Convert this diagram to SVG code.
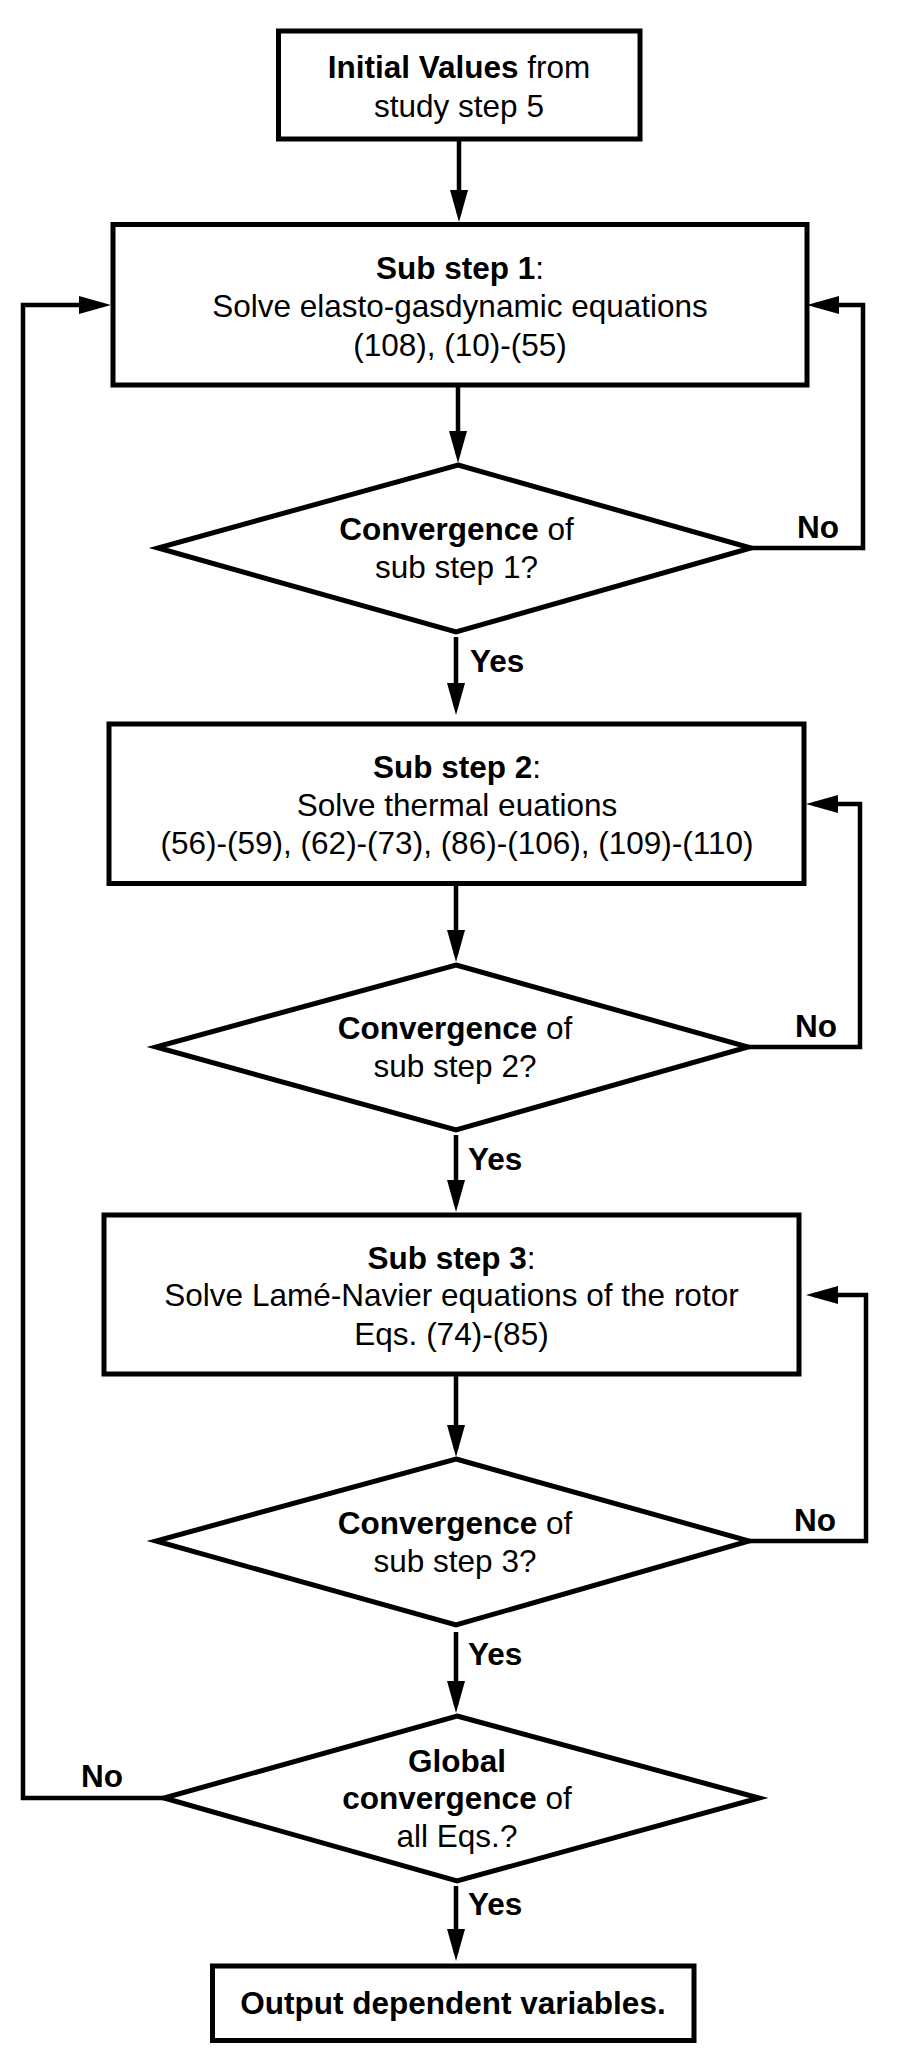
<svg xmlns="http://www.w3.org/2000/svg" width="901" height="2058" viewBox="0 0 901 2058">
<style>
text{font-family:"Liberation Sans",Arial,sans-serif;font-size:31.5px;fill:#000;text-anchor:middle}
.b{font-weight:bold}
.lbl{font-weight:bold;text-anchor:start}
.shape{fill:#fff;stroke:#000;stroke-width:5;stroke-linejoin:miter}
.conn{fill:none;stroke:#000;stroke-width:4.5;marker-end:url(#ah)}
.loop{fill:none;stroke:#000;stroke-width:4.5;stroke-linejoin:miter;marker-end:url(#ah)}
</style>
<defs>
<marker id="ah" markerUnits="userSpaceOnUse" markerWidth="32" markerHeight="18" refX="24" refY="9" orient="auto">
<path d="M0,0 L32,9 L0,18 Z" fill="#000"/>
</marker>
</defs>
<rect width="901" height="2058" fill="#fff"/>

<g id="connectors">
<line class="conn" x1="459" y1="141" x2="459" y2="214"/>
<line class="conn" x1="458" y1="387" x2="458" y2="455"/>
<line class="conn" x1="456" y1="637" x2="456" y2="707"/>
<line class="conn" x1="456" y1="886" x2="456" y2="954"/>
<line class="conn" x1="456" y1="1135" x2="456" y2="1204"/>
<line class="conn" x1="456" y1="1376" x2="456" y2="1449"/>
<line class="conn" x1="456" y1="1632" x2="456" y2="1705"/>
<line class="conn" x1="456" y1="1886" x2="456" y2="1953"/>
<path class="loop" d="M751,548 H863 V305 H815"/>
<path class="loop" d="M748,1047 H860 V804 H814"/>
<path class="loop" d="M749,1541 H866 V1295 H814"/>
<path class="loop" d="M164,1798 H23 V305 H103"/>
<text class="lbl" x="797" y="538">No</text>
<text class="lbl" x="470" y="672">Yes</text>
<text class="lbl" x="795" y="1037">No</text>
<text class="lbl" x="468" y="1170">Yes</text>
<text class="lbl" x="794" y="1531">No</text>
<text class="lbl" x="468" y="1665">Yes</text>
<text class="lbl" x="81" y="1787">No</text>
<text class="lbl" x="468" y="1915">Yes</text>
</g>

<g id="start">
<rect class="shape" x="278.5" y="31" width="361.5" height="108"/>
<text x="459" y="78"><tspan class="b">Initial Values</tspan> from</text>
<text x="459" y="116.5">study step 5</text>
</g>

<g id="substep1">
<rect class="shape" x="113" y="224.5" width="694" height="160.5"/>
<text x="460" y="279"><tspan class="b">Sub step 1</tspan>:</text>
<text x="460" y="317">Solve elasto-gasdynamic equations</text>
<text x="460" y="356">(108), (10)-(55)</text>
</g>

<g id="check1">
<polygon class="shape" points="458,465 751,548 456,632 158,548"/>
<text x="456.5" y="540"><tspan class="b">Convergence</tspan> of</text>
<text x="456.5" y="578">sub step 1?</text>
</g>

<g id="substep2">
<rect class="shape" x="109" y="724" width="695" height="159.5"/>
<text x="457" y="778"><tspan class="b">Sub step 2</tspan>:</text>
<text x="457" y="815.5">Solve thermal euations</text>
<text x="457" y="853.5">(56)-(59), (62)-(73), (86)-(106), (109)-(110)</text>
</g>

<g id="check2">
<polygon class="shape" points="456,965 748,1047 456,1130 156,1047"/>
<text x="455" y="1038.5"><tspan class="b">Convergence</tspan> of</text>
<text x="455" y="1077">sub step 2?</text>
</g>

<g id="substep3">
<rect class="shape" x="104" y="1215" width="695" height="159"/>
<text x="451.5" y="1268.5"><tspan class="b">Sub step 3</tspan>:</text>
<text x="451.5" y="1306">Solve Lamé-Navier equations of the rotor</text>
<text x="451.5" y="1344.5">Eqs. (74)-(85)</text>
</g>

<g id="check3">
<polygon class="shape" points="456,1459 749,1541 456,1625 156,1541"/>
<text x="455" y="1533.5"><tspan class="b">Convergence</tspan> of</text>
<text x="455" y="1571.5">sub step 3?</text>
</g>

<g id="global">
<polygon class="shape" points="457,1716 759,1798 457,1881 164,1798"/>
<text x="457" y="1771.5" class="b">Global</text>
<text x="457" y="1809"><tspan class="b">convergence</tspan> of</text>
<text x="457" y="1847">all Eqs.?</text>
</g>

<g id="output">
<rect class="shape" x="212.5" y="1966" width="481.5" height="74.5"/>
<text x="453" y="2013.5" class="b">Output dependent variables.</text>
</g>
</svg>
